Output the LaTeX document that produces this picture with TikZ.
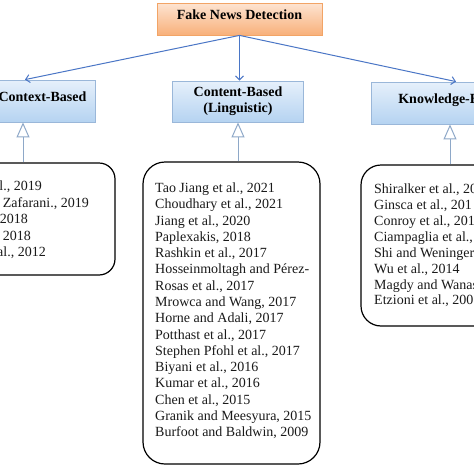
\documentclass[tikz,border=0pt]{standalone}
\usepackage{fontspec}
\setmainfont{Liberation Serif}
\usetikzlibrary{arrows.meta,shadows}
\definecolor{arrblue}{HTML}{4A76C6}
\definecolor{inhcol}{HTML}{8EA8C8}
\definecolor{bluetop}{HTML}{E6F0FB}
\definecolor{bluebot}{HTML}{B5D3F1}
\definecolor{blueedge}{HTML}{9AB7D9}
\definecolor{ortop}{HTML}{FDE4D2}
\definecolor{orbot}{HTML}{F8B07A}
\definecolor{oredge}{HTML}{F2A466}
\definecolor{txtcol}{HTML}{1A1A1A}
\tikzset{
  topbox/.style={draw=oredge, line width=0.8pt, top color=ortop, bottom color=orbot,
    inner sep=0pt, font=\fontsize{14}{16}\selectfont\bfseries,
    drop shadow={shadow xshift=1.2pt, shadow yshift=-1.2pt, opacity=0.35}},
  catbox/.style={draw=blueedge, line width=0.8pt, top color=bluetop, bottom color=bluebot,
    inner sep=0pt, align=center, font=\fontsize{14}{16}\selectfont\bfseries},
  listbox/.style={draw=black, line width=1.2pt, fill=white, inner sep=0pt},
  reftext/.style={font=\fontsize{14}{16}\selectfont, text=txtcol, inner sep=0pt},
  conn/.style={draw=arrblue, line width=1pt, -{Straight Barb[length=4pt,width=8pt]}},
  inh/.style={draw=inhcol, line width=1pt, -{Triangle[open, length=15pt, width=13pt, fill=white]}}
}
\begin{document}
\begin{tikzpicture}[x=1pt,y=-1pt]
\useasboundingbox (0,0) rectangle (474,474);
\clip (0,0) rectangle (474,474);
\fill[white] (0,0) rectangle (474,474);

% top box
\node[topbox, minimum width=165pt, minimum height=32pt, text height=9.5pt, text depth=8pt]
  (fnd) at (239.5,19) {Fake News Detection};

% category boxes
\node[catbox, minimum width=105pt, minimum height=42pt, text height=9.5pt, text depth=9.5pt]
  (ctx) at (42.5,101) {Context-Based};
\node[catbox, minimum width=131pt, minimum height=41pt]
  (cnt) at (238,101.5) {Content-Based\\(Linguistic)};
\node[catbox, minimum width=162pt, minimum height=42pt, text height=9.5pt, text depth=9.5pt]
  (kno) at (452,103) {Knowledge-Based};

% top arrows
\draw[conn] (fnd.south) -- ([xshift=-17.5pt]ctx.north);
\draw[conn] (fnd.south) -- (fnd.south |- cnt.north);
\draw[conn] (fnd.south) -- ([xshift=4pt]kno.north);

% list boxes
\node[listbox, rounded corners=16pt, minimum width=184pt, minimum height=112pt] (lst1) at (23,219) {};
\node[listbox, rounded corners=22pt, minimum width=177pt, minimum height=302pt] (lst2) at (231.5,313) {};
\node[listbox, rounded corners=20pt, minimum width=178pt, minimum height=161pt] (lst3) at (450,245.5) {};

% inheritance arrows
\draw[inh] (lst1.north) -- (lst1.north |- ctx.south);
\draw[inh] (lst2.north -| cnt.south) -- (cnt.south);
\draw[inh] (lst3.north) -- (lst3.north |- kno.south);

% left list (cropped)
\node[reftext, anchor=base east] (l1) at (42,190.5) {al., 2019};
\node[reftext, anchor=base east] (l2) at (89,207) {Zafarani., 2019};
\node[reftext, anchor=base east] (l3) at (28,223.5) {2018};
\node[reftext, anchor=base east] (l4) at (31,240) {, 2018};
\node[reftext, anchor=base east] (l5) at (46,256.5) {al., 2012};

% center list
\foreach \t [count=\i] in {{Tao Jiang et al., 2021},{Choudhary et al., 2021},{Jiang et al., 2020},
  {Paplexakis, 2018},{Rashkin et al., 2017},{Hosseinmoltagh and Pérez-},{Rosas et al., 2017},
  {Mrowca and Wang, 2017},{Horne and Adali, 2017},{Potthast et al., 2017},{Stephen Pfohl et al., 2017},
  {Biyani et al., 2016},{Kumar et al., 2016},{Chen et al., 2015},{Granik and Meesyura, 2015},
  {Burfoot and Baldwin, 2009}}
  \node[reftext, anchor=base west] (c\i) at (155,{192.6+16.27*(\i-1)}) {\t};

% right list (cropped)
\foreach \t [count=\i] in {{Shiralker et al., 20},{Ginsca et al., 201},{Conroy et al., 201},
  {Ciampaglia et al.,},{Shi and Weninger},{Wu et al., 2014},{Magdy and Wanas},{Etzioni et al., 200}}
  \node[reftext, anchor=base west] (r\i) at (374,{193.6+15.9*(\i-1)}) {\t};
\end{tikzpicture}
\end{document}
